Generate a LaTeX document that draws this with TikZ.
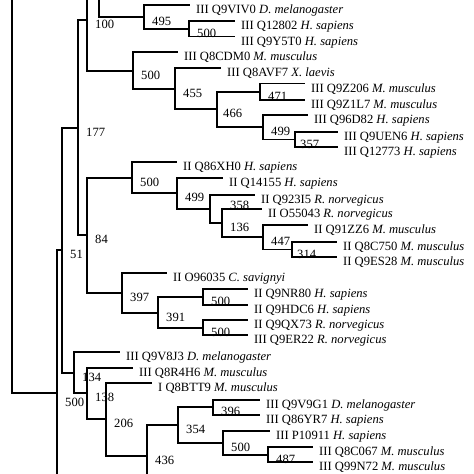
\documentclass[tikz,border=0pt]{standalone}
\usepackage{fontspec}
\setmainfont{Liberation Serif}
\newcommand{\treefont}{\fontsize{12.6}{14}\selectfont}
\begin{document}
\begin{tikzpicture}[
  x=1pt,y=-1pt,
  branch/.style={line width=1.4pt},
  leaf/.style={anchor=north west,inner xsep=6pt,inner ysep=0pt,
               text height=8.3pt,text depth=2.7pt,font=\treefont},
  boot/.style={anchor=north west,inner xsep=8pt,inner ysep=0pt,
               text height=8.5pt,text depth=0pt,font=\treefont}
]
  \useasboundingbox (0,0) rectangle (474,474);
  % free ends at the crop edges
  \coordinate (root) at (12,0);
  \coordinate (n87t) at (87,0);
  \coordinate (n99) at (99,0);
  \coordinate (n57e) at (57,474);
  \coordinate (n147e) at (147,474);
  % internal nodes and their support values
  \coordinate (n57) at (57,393);     \node[boot,yshift=-5pt] (b57) at (n57) {500};
  \coordinate (n62) at (62,250);     \node[boot] (b62) at (n62) {51};
  \coordinate (n78) at (78,128);     \node[boot] (b78) at (n78) {177};
  \coordinate (n87a) at (87,20);     \node[boot] (b87a) at (n87a) {100};
  \coordinate (n144) at (144,17);    \node[boot] (b144) at (n144) {495};
  \coordinate (n189) at (189,29);    \node[boot] (b189) at (n189) {500};
  \coordinate (n133) at (133,71);    \node[boot] (b133) at (n133) {500};
  \coordinate (n175) at (175,89);    \node[boot] (b175) at (n175) {455};
  \coordinate (n217) at (217,109);   \node[boot,xshift=-2pt] (b217) at (n217) {466};
  \coordinate (n260) at (260,92);    \node[boot] (b260) at (n260) {471};
  \coordinate (n263) at (263,127);   \node[boot] (b263) at (n263) {499};
  \coordinate (n295) at (295,139.5); \node[boot,xshift=-3pt] (b295) at (n295) {357};
  \coordinate (n87b) at (87,235);    \node[boot] (b87b) at (n87b) {84};
  \coordinate (n132) at (132,178);   \node[boot] (b132) at (n132) {500};
  \coordinate (n177) at (177,193);   \node[boot] (b177) at (n177) {499};
  \coordinate (n210) at (210,209);   \node[boot,xshift=12pt,yshift=8pt] (b210) at (n210) {358};
  \coordinate (n222) at (222,223);   \node[boot] (b222) at (n222) {136};
  \coordinate (n263b) at (263,237);  \node[boot] (b263b) at (n263b) {447};
  \coordinate (n292) at (292,249.5); \node[boot,xshift=-3pt] (b292) at (n292) {314};
  \coordinate (n122) at (122,293);   \node[boot] (b122) at (n122) {397};
  \coordinate (n158) at (158,313);   \node[boot] (b158) at (n158) {391};
  \coordinate (n203a) at (203,297);  \node[boot] (b203a) at (n203a) {500};
  \coordinate (n203b) at (203,328);  \node[boot] (b203b) at (n203b) {500};
  \coordinate (n74) at (74,373);     \node[boot] (b74) at (n74) {134};
  \coordinate (n87c) at (87,393);    \node[boot] (b87c) at (n87c) {138};
  \coordinate (n106) at (106,419);   \node[boot] (b106) at (n106) {206};
  \coordinate (n147) at (147,456);   \node[boot] (b147) at (n147) {436};
  \coordinate (n178) at (178,425);   \node[boot] (b178) at (n178) {354};
  \coordinate (n213) at (213,407);   \node[boot] (b213) at (n213) {396};
  \coordinate (n223) at (223,443);   \node[boot] (b223) at (n223) {500};
  \coordinate (n268) at (268,455);   \node[boot] (b268) at (n268) {487};
  % sequences
  \node[leaf] (q9viv0) at (190,5)    {III Q9VIV0 \textit{D. melanogaster}};
  \node[leaf] (q12802) at (235,21)   {III Q12802 \textit{H. sapiens}};
  \node[leaf] (q9y5t0) at (235,36.5) {III Q9Y5T0 \textit{H. sapiens}};
  \node[leaf] (q8cdm0) at (178,52)   {III Q8CDM0 \textit{M. musculus}};
  \node[leaf] (q8avf7) at (221,68)   {III Q8AVF7 \textit{X. laevis}};
  \node[leaf] (q9z206) at (305,83.5) {III Q9Z206 \textit{M. musculus}};
  \node[leaf] (q9z1l7) at (305,100)  {III Q9Z1L7 \textit{M. musculus}};
  \node[leaf] (q96d82) at (308,115)  {III Q96D82 \textit{H. sapiens}};
  \node[leaf] (q9uen6) at (338,132)  {III Q9UEN6 \textit{H. sapiens}};
  \node[leaf] (q12773) at (338,147)  {III Q12773 \textit{H. sapiens}};
  \node[leaf] (q86xh0) at (177,162)  {II Q86XH0 \textit{H. sapiens}};
  \node[leaf] (q14155) at (223,178)  {II Q14155 \textit{H. sapiens}};
  \node[leaf] (q923i5) at (255,195)  {II Q923I5 \textit{R. norvegicus}};
  \node[leaf] (o55043) at (262,209)  {II O55043 \textit{R. norvegicus}};
  \node[leaf] (q91zz6) at (308,225)  {II Q91ZZ6 \textit{M. musculus}};
  \node[leaf] (q8c750) at (337,242)  {II Q8C750 \textit{M. musculus}};
  \node[leaf] (q9es28) at (337,257)  {II Q9ES28 \textit{M. musculus}};
  \node[leaf] (o96035) at (167,273)  {II O96035 \textit{C. savignyi}};
  \node[leaf] (q9nr80) at (248,289)  {II Q9NR80 \textit{H. sapiens}};
  \node[leaf] (q9hdc6) at (248,305)  {II Q9HDC6 \textit{H. sapiens}};
  \node[leaf] (q9qx73) at (248,320)  {II Q9QX73 \textit{R. norvegicus}};
  \node[leaf] (q9er22) at (248,335)  {III Q9ER22 \textit{R. norvegicus}};
  \node[leaf] (q9v8j3) at (120,352)  {III Q9V8J3 \textit{D. melanogaster}};
  \node[leaf] (q8r4h6) at (133,368)  {III Q8R4H6 \textit{M. musculus}};
  \node[leaf] (q8btt9) at (152,383)  {I Q8BTT9 \textit{M. musculus}};
  \node[leaf] (q9v9g1) at (260,400)  {III Q9V9G1 \textit{D. melanogaster}};
  \node[leaf] (q86yr7) at (260,415)  {III Q86YR7 \textit{H. sapiens}};
  \node[leaf] (p10911) at (270,431)  {III P10911 \textit{H. sapiens}};
  \node[leaf] (q8c067) at (313,447)  {III Q8C067 \textit{M. musculus}};
  \node[leaf] (q99n72) at (313,462)  {III Q99N72 \textit{M. musculus}};
  % branches
  \draw[branch] (root) |- (n57);
  \draw[branch] (n57) |- (n62) (n57) |- (n57e);
  \draw[branch] (n62) |- (n78) (n62) |- (n74);
  \draw[branch] (n78) |- (n87a) (n78) |- (n87b);
  \draw[branch] (n87a) |- (n87t) (n87a) |- (n133);
  \draw[branch] (n99) |- (n144);
  \draw[branch] (n144) |- (q9viv0.north west) (n144) |- (n189);
  \draw[branch] (n189) |- (q12802.north west) (n189) |- (q9y5t0.north west);
  \draw[branch] (n133) |- (q8cdm0.north west) (n133) |- (n175);
  \draw[branch] (n175) |- (q8avf7.north west) (n175) |- (n217);
  \draw[branch] (n217) |- (n260) (n217) |- (n263);
  \draw[branch] (n260) |- (q9z206.north west) (n260) |- (q9z1l7.north west);
  \draw[branch] (n263) |- (q96d82.north west) (n263) |- (n295);
  \draw[branch] (n295) |- (q9uen6.north west) (n295) |- (q12773.north west);
  \draw[branch] (n87b) |- (n132) (n87b) |- (n122);
  \draw[branch] (n132) |- (q86xh0.north west) (n132) |- (n177);
  \draw[branch] (n177) |- (q14155.north west) (n177) |- (n210);
  \draw[branch] (n210) |- (q923i5.north west) (n210) |- (n222);
  \draw[branch] (n222) |- (o55043.north west) (n222) |- (n263b);
  \draw[branch] (n263b) |- (q91zz6.north west) (n263b) |- (n292);
  \draw[branch] (n292) |- (q8c750.north west) (n292) |- (q9es28.north west);
  \draw[branch] (n122) |- (o96035.north west) (n122) |- (n158);
  \draw[branch] (n158) |- (n203a) (n158) |- (n203b);
  \draw[branch] (n203a) |- (q9nr80.north west) (n203a) |- (q9hdc6.north west);
  \draw[branch] (n203b) |- (q9qx73.north west) (n203b) |- (q9er22.north west);
  \draw[branch] (n74) |- (q9v8j3.north west) (n74) |- (n87c);
  \draw[branch] (n87c) |- (q8r4h6.north west) (n87c) |- (n106);
  \draw[branch] (n106) |- (q8btt9.north west) (n106) |- (n147);
  \draw[branch] (n147) |- (n178) (n147) |- (n147e);
  \draw[branch] (n178) |- (n213) (n178) |- (n223);
  \draw[branch] (n213) |- (q9v9g1.north west) (n213) |- (q86yr7.north west);
  \draw[branch] (n223) |- (p10911.north west) (n223) |- (n268);
  \draw[branch] (n268) |- (q8c067.north west) (n268) |- (q99n72.north west);
\end{tikzpicture}
\end{document}
